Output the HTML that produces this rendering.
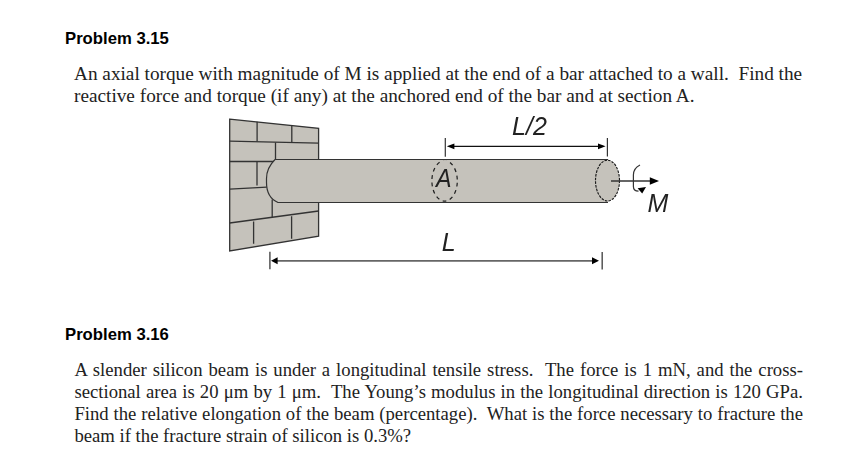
<!DOCTYPE html>
<html><head><meta charset="utf-8">
<style>
html,body{margin:0;padding:0;background:#fff;width:860px;height:468px;overflow:hidden;position:relative}
.h{position:absolute;font-family:"Liberation Sans",sans-serif;font-weight:bold;font-size:16.7px;line-height:20px;color:#000;white-space:pre}
.t{position:absolute;font-family:"Liberation Serif",serif;font-size:19.25px;line-height:21.5px;color:#222;white-space:pre}
.t2{position:absolute;font-family:"Liberation Serif",serif;font-size:18.7px;line-height:21.4px;color:#222;white-space:pre}
.j{white-space:pre-wrap;width:728.6px;text-align:justify;text-align-last:justify}
svg{position:absolute;left:0;top:0;will-change:transform}
</style></head><body>
<div class="h" style="left:65px;top:29px">Problem 3.15</div>
<div class="t" style="left:74px;top:63px">An axial torque with magnitude of M is applied at the end of a bar attached to a wall.  Find the</div>
<div class="t" style="left:74px;top:84.5px">reactive force and torque (if any) at the anchored end of the bar and at section A.</div>

<svg width="460" height="170" viewBox="220 108 460 170" style="left:220px;top:108px">
<g fill="#c5c2bb" stroke="#333" stroke-width="1.3" stroke-linejoin="miter">
<polygon points="229.7,119.2 318.6,128.3 318.6,236.1 229.7,251"/>
</g>
<g fill="none" stroke="#333" stroke-width="1.3">
<path d="M229.7 141.1 L318.6 143.1"/>
<path d="M257.1 121.8 V141.6 M291.8 125.4 V142.6"/>
<path d="M275.5 142.5 V159.5"/>
<path d="M229.7 161.5 H274.5"/>
<path d="M257 161.5 V185.5"/>
<path d="M229.7 189.1 L266.8 187.1"/>
<path d="M272.2 199.5 V217.3"/>
<path d="M229.7 223 L318.6 211"/>
<path d="M253.6 221.5 V243.8 M291.6 216.2 V238.7"/>
</g>
<path d="M275 159.5 H608 V202.5 H278 C271 199.5 266.5 192.5 266.5 182.5 L266.5 178.5 C266.5 170.5 270 164.5 275 159.5 Z" fill="#c5c2bb" stroke="none"/>
<path d="M275 159.5 H608 M608 202.5 H278 C271 199.5 266.5 192.5 266.5 182.5 L266.5 178.5 C266.5 170.5 270 164.5 275 159.5" fill="none" stroke="#333" stroke-width="1.2"/>
<ellipse cx="607.5" cy="180.6" rx="12" ry="20.4" fill="#c5c2bb" stroke="#1a1a1a" stroke-width="1.15" stroke-dasharray="2.6 1.1"/>
<ellipse cx="444.6" cy="180.9" rx="12.7" ry="20.2" fill="none" stroke="#222" stroke-width="1.25" stroke-dasharray="3.8 3.65" stroke-dashoffset="5.6"/>
<path d="M440 161.6 Q445 160.4 450 161.6" stroke="#c5c2bb" stroke-width="2.2" fill="none"/>
<!-- axis -->
<path d="M611 181 H651" stroke="#333" stroke-width="1.6"/>
<polygon points="649.8,177.3 659,181 649.8,184.7" fill="#000"/>
<path d="M640 165 C636 167 633.4 170 633.4 175 V186.5 C633.4 189 635 191.2 638.5 191.2" fill="none" stroke="#333" stroke-width="1.2"/>
<polygon points="637.6,188.3 646,187 642.2,193.5" fill="#000"/>
<!-- dim L/2 -->
<path d="M445.3 138 V156.7 M607.4 138 V156.5" stroke="#333" stroke-width="1.2"/>
<path d="M450 146.3 H603" stroke="#111" stroke-width="1.15"/>
<polygon points="446.8,146.3 454.4,143.4 454.4,149.2" fill="#000"/>
<polygon points="605.6,146.3 598,143.4 598,149.2" fill="#000"/>
<!-- dim L -->
<path d="M269.9 251.7 V269.3 M602.2 251.9 V269.5" stroke="#555" stroke-width="1.5"/>
<path d="M274 260.8 H596" stroke="#666" stroke-width="1.8"/>
<polygon points="271,260.8 277.6,257.3 277.6,264.3" fill="#000"/>
<polygon points="599,260.8 592,257.3 592,264.3" fill="#000"/>
<g font-family="Liberation Sans" font-style="italic" font-size="25" fill="#222">
<text x="436" y="186.8" transform="translate(436 0) scale(0.93 1) translate(-436 0)">A</text>
<text x="512.1" y="134.6">L/2</text>
<text x="441.7" y="251.4">L</text>
<text x="647.6" y="211.8">M</text>
</g>
</svg>

<div class="h" style="left:65px;top:325px">Problem 3.16</div>
<div class="t2 j" style="left:74.4px;top:358.5px">A slender silicon beam is under a longitudinal tensile stress.  The force is 1 mN, and the cross-</div>
<div class="t2 j" style="left:74.4px;top:380.5px">sectional area is 20 μm by 1 μm.  The Young’s modulus in the longitudinal direction is 120 GPa.</div>
<div class="t2 j" style="left:74.4px;top:402.5px">Find the relative elongation of the beam (percentage).  What is the force necessary to fracture the</div>
<div class="t2" style="left:74.4px;top:424.5px">beam if the fracture strain of silicon is 0.3%?</div>
</body></html>
